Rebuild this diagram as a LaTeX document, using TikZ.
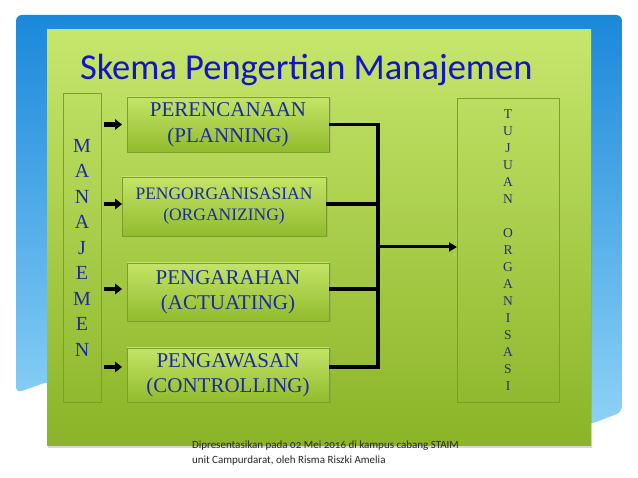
\documentclass[tikz,border=0pt]{standalone}
\usepackage{fontspec}
\setmainfont{Liberation Serif}
\newfontfamily\titlefont{Carlito}
\newfontfamily\notefont[Numbers=OldStyle]{Carlito}
\usetikzlibrary{positioning, arrows.meta, shadows}
\definecolor{skyblue}{HTML}{1A88DA}
\definecolor{paleblue}{HTML}{8DD2F7}
\definecolor{limetop}{HTML}{C6E66C}
\definecolor{limebot}{HTML}{8BB428}
\definecolor{boxtop}{HTML}{C4E467}
\definecolor{boxbot}{HTML}{92BB2D}
\definecolor{olive}{HTML}{7E9E2C}
\definecolor{navytext}{HTML}{1D2C9C}
\definecolor{darknavy}{HTML}{26306E}
\definecolor{titleblue}{HTML}{1414C4}

\begin{document}
\begin{tikzpicture}[x=1pt, y=-1pt,
    every node/.style={inner sep=0pt, outer sep=0pt},
    stepbox/.style={draw=olive, line width=0.6pt, top color=boxtop, bottom color=boxbot,
        text=navytext, align=center, minimum width=202pt,
        drop shadow={opacity=0.25, shadow xshift=1.5pt, shadow yshift=-1.5pt}},
    tallbox/.style={draw=olive, line width=0.7pt, align=center},
    feed/.style={line width=4.2pt, -{Triangle[length=7pt, width=10.5pt]}},
    bar/.style={line width=3.8pt},
    goal/.style={line width=3pt, -{Triangle[length=8pt, width=9pt]}}]
    \useasboundingbox (0,0) rectangle (638,478);
    \fill[white] (0,0) rectangle (638,478);

    % Background panels
    \shade[top color=skyblue, bottom color=paleblue, rounded corners=6pt]
        (16,15) -- (622,15) -- (622,412) -- (591,424) -- (47,382) -- (16,393) -- cycle;
    \fill[top color=limetop, bottom color=limebot,
        drop shadow={opacity=0.3, shadow xshift=1pt, shadow yshift=-2pt}] (47,30) rectangle (591,446);

    % Title
    \node[font=\titlefont\fontsize{36.5}{40}\selectfont, text=titleblue, anchor=base west]
        (title) at (80,80) {Skema Pengertian Manajemen};

    % Manajemen column
    \node[tallbox, minimum width=38pt, minimum height=309pt, text=navytext,
        font=\fontsize{20}{25.5}\selectfont] (man) at (82,247.5)
        {M\\A\\N\\A\\J\\E\\M\\E\\N};

    % Steps
    \node[stepbox, minimum height=55pt, font=\fontsize{21}{26}\selectfont] (p1) at (228,124.5)
        {PERENCANAAN\\(PLANNING)};
    \node[stepbox, minimum width=204pt, minimum height=59pt, font=\fontsize{17.5}{21}\selectfont] (p2) at (224,206.5)
        {PENGORGANISASIAN\\(ORGANIZING)};
    \node[stepbox, minimum height=58pt, font=\fontsize{21}{25}\selectfont] (p3) at (228,292)
        {PENGARAHAN\\(ACTUATING)};
    \node[stepbox, minimum height=54pt, font=\fontsize{21}{25}\selectfont] (p4) at (228,375)
        {PENGAWASAN\\(CONTROLLING)};

    % Tujuan organisasi column
    \node[tallbox, minimum width=102pt, minimum height=304pt, text=darknavy,
        font=\fontsize{13.5}{17}\selectfont] (tuj) at (508,250)
        {T\\U\\J\\U\\A\\N\\[17pt]O\\R\\G\\A\\N\\I\\S\\A\\S\\I};

    % Connectors
    \coordinate (bus) at (378,0);
    \coordinate (tip) at (122,0);
    \coordinate (e1) at (p1.east);
    \coordinate (e2) at ([yshift=2.5pt]p2.east);
    \coordinate (e3) at ([yshift=3pt]p3.east);
    \coordinate (e4) at ([yshift=8pt]p4.east);
    \foreach \e in {e1,e2,e3,e4}
        \draw[feed] ([xshift=3pt]man.east |- \e) -- (tip |- \e);
    \draw[bar] (e1) -- (e1 -| bus) -- (e4 -| bus) -- (e4);
    \draw[bar] (e2) -- (e2 -| bus);
    \draw[bar] (e3) -- (e3 -| bus);
    \draw[goal] (bus |- tuj.west) ++(0,-3) -- ([yshift=3pt]tuj.west);

    % Footnote
    \node[anchor=north west, align=left, text=black!85,
        font=\notefont\fontsize{11}{15}\selectfont] (note) at (192,441)
        {Dipresentasikan pada 02 Mei 2016 di kampus cabang STAIM\\unit Campurdarat, oleh Risma Riszki Amelia};
\end{tikzpicture}
\end{document}
